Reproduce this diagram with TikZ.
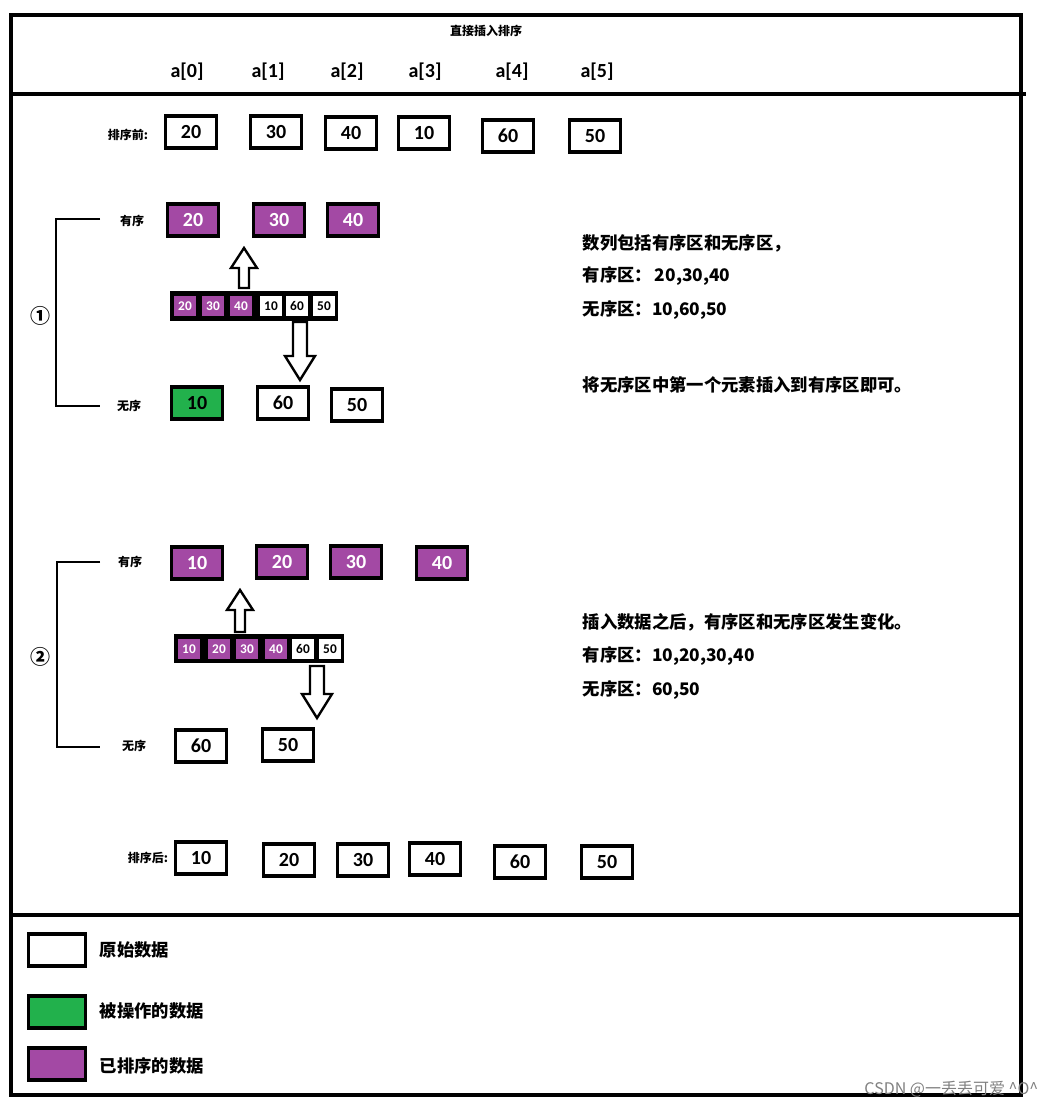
\documentclass[tikz,border=0pt]{standalone}
\usepackage{fontspec}
\setmainfont{Carlito}
\newfontfamily\cjk{Noto Sans CJK SC}
\usetikzlibrary{positioning}
\definecolor{sorted}{RGB}{163,73,164}
\definecolor{active}{RGB}{34,177,76}
\tikzset{
  box/.style={draw, line width=2.6pt, minimum width=38pt, minimum height=24pt, inner sep=0pt, font=\bfseries\fontsize{15}{15}\selectfont},
  sbox/.style={box, fill=sorted, text=white},
  gbox/.style={box, fill=active},
  mini/.style={minimum width=16pt, minimum height=15pt, inner sep=0pt, font=\bfseries\fontsize{10}{10}\selectfont},
  smini/.style={mini, fill=sorted, text=white},
  wmini/.style={mini, fill=white},
  lab/.style={font=\cjk\bfseries\fontsize{9}{9}\selectfont},
  note/.style={anchor=west, font=\cjk\bfseries\fontsize{13}{13}\selectfont},
  idx/.style={font=\bfseries\fontsize{15}{15}\selectfont},
  circ/.style={font=\cjk\bfseries\fontsize{15}{15}\selectfont},
  hollow/.style={draw, line width=1.8pt, fill=white}
}
\newcommand{\uparr}[3]{% x, tip y, tail y
  \draw[hollow] (#1-5,#3) -- (#1-5,#2+20) -- (#1-13,#2+20) -- (#1,#2) -- (#1+13,#2+20) -- (#1+5,#2+20) -- (#1+5,#3) -- cycle;}
\newcommand{\downarr}[3]{% x, tip y, tail y
  \draw[hollow] (#1-7,#3) -- (#1-7,#2-24) -- (#1-15,#2-24) -- (#1,#2) -- (#1+15,#2-24) -- (#1+7,#2-24) -- (#1+7,#3) -- cycle;}
\begin{document}
\begin{tikzpicture}[x=0.75pt, y=-0.75pt]
\useasboundingbox (0,0) rectangle (1043,1110);
% frame
\draw[line width=2.6pt] (11,15) rectangle (1021,1095);
\draw[line width=2.6pt] (11,94) -- (1026,94);
\draw[line width=2.6pt] (11,915) -- (1021,915);
\node[lab] (title) at (486,31) {直接插入排序};
\foreach \i/\x in {0/187,1/268,2/347,3/425,4/512,5/597}
  \node[idx] (a\i) at (\x,72) {a[\i]};
% before
\node[lab] (before) at (128,135) {排序前:};
\node[box] (b0) at (191,132) {20};
\node[box] (b1) at (276,132) {30};
\node[box] (b2) at (351,133) {40};
\node[box] (b3) at (424,133) {10};
\node[box] (b4) at (508,136) {60};
\node[box] (b5) at (595,136) {50};
% step 1
\draw[line width=1.5pt] (100,219) -- (56,219) -- (56,406) -- (100,406);
\node[circ] (s1) at (40,316) {①};
\node[lab] (ord1) at (132,221) {有序};
\node[lab] (un1) at (129,406) {无序};
\node[sbox] (p0) at (193,220) {20};
\node[sbox] (p1) at (279,220) {30};
\node[sbox] (p2) at (353,220) {40};
\node[gbox] (u0) at (197,403) {10};
\node[box] (u1) at (283,403) {60};
\node[box] (u2) at (357,405) {50};
\fill (170,291) rectangle (338,321);
\foreach \x/\v/\s in {185/20/smini,213/30/smini,241/40/smini,271/10/wmini,297/60/wmini,324/50/wmini}
  \node[\s] (m1\v) at (\x,306) {\v};
\uparr{244}{248}{288}
\downarr{300}{380}{322}
\node[note] (t1) at (578,243) {数列包括有序区和无序区，};
\node[note] (t2) at (578,276) {有序区：\,20,30,40};
\node[note] (t3) at (578,310) {无序区：10,60,50};
\node[note] (t4) at (578,385) {将无序区中第一个元素插入到有序区即可。};
% step 2
\draw[line width=1.5pt] (100,562) -- (57,562) -- (57,747) -- (100,747);
\node[circ] (s2) at (40,657) {②};
\node[lab] (ord2) at (130,562) {有序};
\node[lab] (un2) at (134,746) {无序};
\node[sbox] (q0) at (197,563) {10};
\node[sbox] (q1) at (282,562) {20};
\node[sbox] (q2) at (356,562) {30};
\node[sbox] (q3) at (442,563) {40};
\node[box] (v0) at (201,746) {60};
\node[box] (v1) at (288,745) {50};
\fill (174,634) rectangle (344,663);
\foreach \x/\v/\s in {189/10/smini,219/20/smini,247/30/smini,276/40/smini,303/60/wmini,330/50/wmini}
  \node[\s] (m2\v) at (\x,649) {\v};
\uparr{240}{590}{632}
\downarr{317}{718}{666}
\node[note] (t5) at (578,622) {插入数据之后，有序区和无序区发生变化。};
\node[note] (t6) at (578,656) {有序区：10,20,30,40};
\node[note] (t7) at (578,690) {无序区：60,50};
% after
\node[lab] (after) at (148,858) {排序后:};
\node[box] (c0) at (201,858) {10};
\node[box] (c1) at (289,860) {20};
\node[box] (c2) at (363,860) {30};
\node[box] (c3) at (435,859) {40};
\node[box] (c4) at (520,862) {60};
\node[box] (c5) at (607,862) {50};
% legend
\node[box, minimum width=43pt] (k0) at (57,950) {};
\node[gbox, minimum width=43pt] (k1) at (57,1012) {};
\node[sbox, minimum width=43pt] (k2) at (57,1064) {};
\node[note] (l0) at (95,950) {原始数据};
\node[note] (l1) at (95,1011) {被操作的数据};
\node[note] (l2) at (95,1066) {已排序的数据};
\node[anchor=east, text=gray, font=\cjk\fontsize{12}{12}\selectfont] (wm) at (1043,1089) {CSDN @一丢丢可爱 \^{}O\^{}};
\end{tikzpicture}
\end{document}
